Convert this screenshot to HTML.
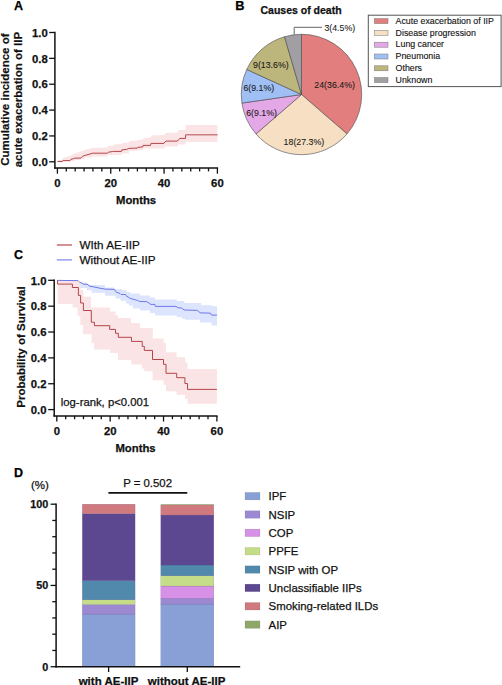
<!DOCTYPE html>
<html><head><meta charset="utf-8"><style>
html,body{margin:0;padding:0;background:#fff;}
svg{display:block;font-family:"Liberation Sans", sans-serif;}
</style></head><body>
<svg width="502" height="685" viewBox="0 0 502 685">
<rect width="502" height="685" fill="#fff"/>
<text x="14" y="10" font-size="12.5" font-weight="700" text-anchor="start" fill="#000" stroke="#000" stroke-width="0.25" >A</text>
<text transform="translate(8.6,99.6) rotate(-90)" font-size="11.5" font-weight="700" text-anchor="middle" fill="#111" stroke="#111" stroke-width="0.2">Cumulative incidence of</text>
<text transform="translate(21.6,99.6) rotate(-90)" font-size="11.5" font-weight="700" text-anchor="middle" fill="#111" stroke="#111" stroke-width="0.2">acute exacerbation of IIP</text>
<path d="M57.5,160.0 L62.0,160.0 L63.0,158.0 L71.0,155.4 L75.0,153.4 L81.0,151.4 L85.0,150.0 L92.4,148.0 L107.5,147.6 L108.0,145.9 L113.4,145.5 L114.0,144.4 L121.5,144.0 L122.0,143.2 L128.9,142.6 L129.5,141.0 L137.6,140.6 L138.0,139.8 L143.0,139.4 L143.5,138.0 L151.0,137.6 L151.5,135.4 L164.5,135.0 L165.0,133.0 L178.0,132.6 L178.5,130.0 L185.6,130.0 L185.6,125.0 L217.4,125.0 L217.4,141.9 L185.6,141.9 L185.6,144.4 L178.0,144.4 L178.0,146.4 L164.5,146.4 L164.5,148.4 L151.0,148.4 L151.0,148.4 L143.0,148.4 L143.0,149.9 L137.6,149.9 L137.6,150.9 L128.9,150.9 L128.9,153.4 L121.5,153.4 L121.5,154.9 L107.5,154.9 L107.5,156.4 L92.4,156.4 L92.4,157.4 L84.9,157.4 L84.9,158.9 L80.9,158.9 L80.9,159.9 L74.9,159.9 L74.9,160.9 L70.9,160.9 L70.9,161.6 L62.8,161.6 L62.8,162.3 L57.5,162.3Z" fill="#FBE4E5" fill-opacity="1"/>
<path d="M57.5,161.5 L62.2,161.5 L62.8,160.6 L70.0,160.6 L70.9,159.4 L73.4,158.7 L74.9,158.1 L80.9,158.1 L82.4,156.4 L84.9,155.4 L88.9,154.4 L92.4,153.2 L107.5,153.2 L108.5,152.1 L112.0,151.7 L113.4,151.4 L121.4,151.4 L121.9,149.9 L126.4,149.4 L128.9,148.4 L137.4,148.1 L137.8,147.4 L142.8,146.9 L143.0,145.4 L150.5,145.4 L151.0,143.4 L163.9,143.4 L164.9,141.9 L166.4,141.1 L177.4,141.1 L178.4,139.7 L179.9,138.4 L185.5,138.4 L185.6,134.8" fill="none" stroke="#B4454A" stroke-width="1.0" stroke-linejoin="miter"/>
<line x1="185.6" y1="134.8" x2="217.6" y2="134.8" stroke="#CC7F83" stroke-width="1.4"/>
<line x1="54.9" y1="31.8" x2="54.9" y2="168.8" stroke="#111" stroke-width="1.5"/>
<line x1="54.15" y1="168.10000000000002" x2="218.1" y2="168.10000000000002" stroke="#111" stroke-width="1.5"/>
<line x1="49.199999999999996" y1="161.8" x2="54.9" y2="161.8" stroke="#111" stroke-width="1.3"/>
<text x="47.699999999999996" y="166.0" font-size="11.3" font-weight="700" text-anchor="end" fill="#111" stroke="#111" stroke-width="0.25" >0.0</text>
<line x1="49.199999999999996" y1="135.94" x2="54.9" y2="135.94" stroke="#111" stroke-width="1.3"/>
<text x="47.699999999999996" y="140.14" font-size="11.3" font-weight="700" text-anchor="end" fill="#111" stroke="#111" stroke-width="0.25" >0.2</text>
<line x1="49.199999999999996" y1="110.08000000000001" x2="54.9" y2="110.08000000000001" stroke="#111" stroke-width="1.3"/>
<text x="47.699999999999996" y="114.28" font-size="11.3" font-weight="700" text-anchor="end" fill="#111" stroke="#111" stroke-width="0.25" >0.4</text>
<line x1="49.199999999999996" y1="84.22" x2="54.9" y2="84.22" stroke="#111" stroke-width="1.3"/>
<text x="47.699999999999996" y="88.42" font-size="11.3" font-weight="700" text-anchor="end" fill="#111" stroke="#111" stroke-width="0.25" >0.6</text>
<line x1="49.199999999999996" y1="58.36" x2="54.9" y2="58.36" stroke="#111" stroke-width="1.3"/>
<text x="47.699999999999996" y="62.56" font-size="11.3" font-weight="700" text-anchor="end" fill="#111" stroke="#111" stroke-width="0.25" >0.8</text>
<line x1="49.199999999999996" y1="32.5" x2="54.9" y2="32.5" stroke="#111" stroke-width="1.3"/>
<text x="47.699999999999996" y="36.7" font-size="11.3" font-weight="700" text-anchor="end" fill="#111" stroke="#111" stroke-width="0.25" >1.0</text>
<line x1="57.4" y1="168.10000000000002" x2="57.4" y2="173.70000000000002" stroke="#111" stroke-width="1.3"/>
<text x="57.4" y="186.8" font-size="11.3" font-weight="700" text-anchor="middle" fill="#111" stroke="#111" stroke-width="0.25" >0</text>
<line x1="66.28888888888889" y1="168.10000000000002" x2="66.28888888888889" y2="171.40000000000003" stroke="#111" stroke-width="1.3"/>
<line x1="75.17777777777778" y1="168.10000000000002" x2="75.17777777777778" y2="171.40000000000003" stroke="#111" stroke-width="1.3"/>
<line x1="84.06666666666666" y1="168.10000000000002" x2="84.06666666666666" y2="171.40000000000003" stroke="#111" stroke-width="1.3"/>
<line x1="92.95555555555555" y1="168.10000000000002" x2="92.95555555555555" y2="171.40000000000003" stroke="#111" stroke-width="1.3"/>
<line x1="101.84444444444443" y1="168.10000000000002" x2="101.84444444444443" y2="171.40000000000003" stroke="#111" stroke-width="1.3"/>
<line x1="110.73333333333333" y1="168.10000000000002" x2="110.73333333333333" y2="173.70000000000002" stroke="#111" stroke-width="1.3"/>
<text x="110.73" y="186.8" font-size="11.3" font-weight="700" text-anchor="middle" fill="#111" stroke="#111" stroke-width="0.25" >20</text>
<line x1="119.62222222222223" y1="168.10000000000002" x2="119.62222222222223" y2="171.40000000000003" stroke="#111" stroke-width="1.3"/>
<line x1="128.51111111111112" y1="168.10000000000002" x2="128.51111111111112" y2="171.40000000000003" stroke="#111" stroke-width="1.3"/>
<line x1="137.4" y1="168.10000000000002" x2="137.4" y2="171.40000000000003" stroke="#111" stroke-width="1.3"/>
<line x1="146.2888888888889" y1="168.10000000000002" x2="146.2888888888889" y2="171.40000000000003" stroke="#111" stroke-width="1.3"/>
<line x1="155.17777777777778" y1="168.10000000000002" x2="155.17777777777778" y2="171.40000000000003" stroke="#111" stroke-width="1.3"/>
<line x1="164.06666666666666" y1="168.10000000000002" x2="164.06666666666666" y2="173.70000000000002" stroke="#111" stroke-width="1.3"/>
<text x="164.07" y="186.8" font-size="11.3" font-weight="700" text-anchor="middle" fill="#111" stroke="#111" stroke-width="0.25" >40</text>
<line x1="172.95555555555555" y1="168.10000000000002" x2="172.95555555555555" y2="171.40000000000003" stroke="#111" stroke-width="1.3"/>
<line x1="181.84444444444446" y1="168.10000000000002" x2="181.84444444444446" y2="171.40000000000003" stroke="#111" stroke-width="1.3"/>
<line x1="190.73333333333335" y1="168.10000000000002" x2="190.73333333333335" y2="171.40000000000003" stroke="#111" stroke-width="1.3"/>
<line x1="199.62222222222223" y1="168.10000000000002" x2="199.62222222222223" y2="171.40000000000003" stroke="#111" stroke-width="1.3"/>
<line x1="208.51111111111112" y1="168.10000000000002" x2="208.51111111111112" y2="171.40000000000003" stroke="#111" stroke-width="1.3"/>
<line x1="217.4" y1="168.10000000000002" x2="217.4" y2="173.70000000000002" stroke="#111" stroke-width="1.3"/>
<text x="217.4" y="186.8" font-size="11.3" font-weight="700" text-anchor="middle" fill="#111" stroke="#111" stroke-width="0.25" >60</text>
<text x="136.1" y="204.1" font-size="11.3" font-weight="700" text-anchor="middle" fill="#111" stroke="#111" stroke-width="0.25" >Months</text>
<text x="235.3" y="10.0" font-size="12.8" font-weight="700" text-anchor="start" fill="#000" stroke="#000" stroke-width="0.25" >B</text>
<text x="260.5" y="13.6" font-size="10.5" font-weight="700" text-anchor="start" fill="#111" stroke="#111" stroke-width="0.25" >Causes of death</text>
<path d="M301.5,94.5 L301.50,34.30 A60.2,60.2 0 0 1 347.00,133.92 Z" fill="#E27F7E" stroke="#4a4a4a" stroke-width="0.6" stroke-linejoin="round"/>
<path d="M301.5,94.5 L347.00,133.92 A60.2,60.2 0 0 1 256.00,133.92 Z" fill="#F6DFC2" stroke="#4a4a4a" stroke-width="0.6" stroke-linejoin="round"/>
<path d="M301.5,94.5 L256.00,133.92 A60.2,60.2 0 0 1 241.91,103.07 Z" fill="#E4A8E6" stroke="#4a4a4a" stroke-width="0.6" stroke-linejoin="round"/>
<path d="M301.5,94.5 L241.91,103.07 A60.2,60.2 0 0 1 246.74,69.49 Z" fill="#A0BFF5" stroke="#4a4a4a" stroke-width="0.6" stroke-linejoin="round"/>
<path d="M301.5,94.5 L246.74,69.49 A60.2,60.2 0 0 1 284.54,36.74 Z" fill="#BCB57C" stroke="#4a4a4a" stroke-width="0.6" stroke-linejoin="round"/>
<path d="M301.5,94.5 L284.54,36.74 A60.2,60.2 0 0 1 301.50,34.30 Z" fill="#A19FA4" stroke="#4a4a4a" stroke-width="0.6" stroke-linejoin="round"/>
<text x="314.3" y="87.8" font-size="8.8" font-weight="400" text-anchor="start" fill="#1a1a1a" stroke="#1a1a1a" stroke-width="0.08" >24(36.4%)</text>
<text x="283.6" y="145.2" font-size="8.8" font-weight="400" text-anchor="start" fill="#1a1a1a" stroke="#1a1a1a" stroke-width="0.08" >18(27.3%)</text>
<text x="246.2" y="115.9" font-size="8.8" font-weight="400" text-anchor="start" fill="#1a1a1a" stroke="#1a1a1a" stroke-width="0.08" >6(9.1%)</text>
<text x="243.4" y="91.3" font-size="8.8" font-weight="400" text-anchor="start" fill="#1a1a1a" stroke="#1a1a1a" stroke-width="0.08" >6(9.1%)</text>
<text x="253.0" y="67.6" font-size="8.8" font-weight="400" text-anchor="start" fill="#1a1a1a" stroke="#1a1a1a" stroke-width="0.08" >9(13.6%)</text>
<text x="324.4" y="30.5" font-size="8.8" font-weight="400" text-anchor="start" fill="#1a1a1a" stroke="#1a1a1a" stroke-width="0.08" >3(4.5%)</text>
<path d="M294.2,34.3 V27.3 H322" fill="none" stroke="#555" stroke-width="0.9"/>
<rect x="368.3" y="15.2" width="132.8" height="71.4" fill="#fff" stroke="#555" stroke-width="1"/>
<rect x="374.4" y="18.6" width="13.6" height="5.0" fill="#E27F7E" stroke="#777" stroke-width="0.5"/>
<text x="395.6" y="23.8" font-size="8.8" font-weight="400" text-anchor="start" fill="#111" stroke="#111" stroke-width="0.12" >Acute exacerbation of IIP</text>
<rect x="374.4" y="30.4" width="13.6" height="5.0" fill="#F6DFC2" stroke="#777" stroke-width="0.5"/>
<text x="395.6" y="35.6" font-size="8.8" font-weight="400" text-anchor="start" fill="#111" stroke="#111" stroke-width="0.12" >Disease progression</text>
<rect x="374.4" y="42.2" width="13.6" height="5.0" fill="#E4A8E6" stroke="#777" stroke-width="0.5"/>
<text x="395.6" y="47.4" font-size="8.8" font-weight="400" text-anchor="start" fill="#111" stroke="#111" stroke-width="0.12" >Lung cancer</text>
<rect x="374.4" y="54.0" width="13.6" height="5.0" fill="#A0BFF5" stroke="#777" stroke-width="0.5"/>
<text x="395.6" y="59.2" font-size="8.8" font-weight="400" text-anchor="start" fill="#111" stroke="#111" stroke-width="0.12" >Pneumonia</text>
<rect x="374.4" y="65.8" width="13.6" height="5.0" fill="#BCB57C" stroke="#777" stroke-width="0.5"/>
<text x="395.6" y="71.0" font-size="8.8" font-weight="400" text-anchor="start" fill="#111" stroke="#111" stroke-width="0.12" >Others</text>
<rect x="374.4" y="77.6" width="13.6" height="5.0" fill="#A19FA4" stroke="#777" stroke-width="0.5"/>
<text x="395.6" y="82.8" font-size="8.8" font-weight="400" text-anchor="start" fill="#111" stroke="#111" stroke-width="0.12" >Unknown</text>
<text x="14" y="258.7" font-size="12.5" font-weight="700" text-anchor="start" fill="#000" stroke="#000" stroke-width="0.25" >C</text>
<line x1="56.8" y1="245" x2="72" y2="245" stroke="#B2383C" stroke-width="1.1"/>
<line x1="56.8" y1="259.9" x2="72" y2="259.9" stroke="#6F78E8" stroke-width="1.1"/>
<text x="79.5" y="248.6" font-size="11.7" font-weight="400" text-anchor="start" fill="#111" stroke="#111" stroke-width="0.25" >WIth AE-IIP</text>
<text x="79.5" y="263.7" font-size="11.7" font-weight="400" text-anchor="start" fill="#111" stroke="#111" stroke-width="0.25" >Without AE-IIP</text>
<text transform="translate(24.7,347) rotate(-90)" font-size="11.5" font-weight="700" text-anchor="middle" fill="#111" stroke="#111" stroke-width="0.2">Probability of Survival</text>
<path d="M57.4,280.2 L78.0,280.2 L78.0,282.5 L87.0,282.5 L87.0,285.0 L105.0,285.0 L105.0,287.4 L114.4,287.4 L114.4,289.0 L122.0,289.0 L122.0,290.0 L126.5,290.0 L126.5,292.0 L130.0,292.0 L130.0,293.5 L140.0,293.5 L140.0,295.5 L150.0,295.5 L150.0,297.5 L155.0,297.5 L155.0,299.5 L176.8,299.5 L176.8,301.0 L184.3,301.0 L184.3,302.9 L201.2,302.9 L201.2,305.3 L212.4,305.3 L212.4,306.3 L217.1,306.3 L217.1,325.4 L211.5,325.4 L211.5,322.6 L200.2,322.6 L200.2,319.8 L185.2,319.8 L185.2,318.7 L182.0,318.7 L182.0,317.2 L176.8,317.2 L176.8,315.5 L155.0,315.5 L155.0,312.9 L150.0,312.9 L150.0,310.4 L140.0,310.4 L140.0,308.4 L133.0,308.4 L133.0,305.4 L129.0,305.4 L129.0,303.4 L126.0,303.4 L126.0,300.8 L120.5,300.8 L120.5,298.5 L115.6,298.5 L115.6,295.7 L105.0,295.7 L105.0,292.7 L91.7,292.7 L91.7,290.3 L87.0,290.3 L87.0,288.0 L79.8,288.0 L79.8,285.6 L75.0,285.6 L57.4,281.5Z" fill="#DCE5FD" fill-opacity="1"/>
<path d="M57.4,280.2 L78.4,280.2 L78.4,283.0 L80.6,283.0 L80.6,290.0 L83.4,290.0 L83.4,296.7 L91.0,296.7 L91.0,307.5 L109.9,307.5 L109.9,311.6 L115.5,311.6 L115.5,315.2 L117.9,315.2 L117.9,318.0 L131.0,318.0 L131.0,323.0 L140.0,323.0 L140.0,328.0 L152.8,328.0 L152.8,338.5 L163.6,338.5 L163.6,343.1 L165.8,343.1 L165.8,352.2 L176.5,352.2 L176.5,357.2 L185.2,357.2 L185.2,362.6 L187.5,362.6 L187.5,369.1 L216.9,369.1 L216.9,403.8 L187.5,403.8 L187.5,399.0 L185.0,399.0 L185.0,394.8 L176.7,394.8 L176.7,391.2 L166.0,391.2 L166.0,384.7 L163.6,384.7 L163.6,380.3 L152.6,380.3 L152.6,371.2 L144.3,371.2 L144.3,368.5 L142.0,368.5 L142.0,364.5 L131.3,364.5 L131.3,360.0 L118.0,360.0 L118.0,353.0 L110.0,353.0 L110.0,349.6 L94.0,349.6 L94.0,343.0 L91.6,343.0 L91.6,334.3 L82.9,334.3 L82.9,325.0 L80.3,325.0 L80.3,316.3 L77.6,316.3 L77.6,307.5 L72.6,307.5 L72.6,304.0 L57.9,304.0 L57.4,281.0Z" fill="#FBE4E5" fill-opacity="1"/>
<path d="M57.2,280.4 L78.0,280.6 L78.7,281.3 L79.8,282.6 L81.1,282.6 L83.4,284.1 L88.1,284.5 L89.1,286.0 L94.1,287.0 L98.9,288.0 L104.9,289.1 L114.4,289.4 L116.2,292.1 L120.0,293.5 L121.0,294.5 L125.5,294.5 L126.5,296.2 L128.5,297.0 L129.5,298.1 L132.0,298.9 L134.9,299.7 L137.4,300.4 L139.4,301.4 L146.9,301.7 L147.9,302.4 L149.9,303.4 L150.4,304.4 L154.9,304.4 L155.4,306.4 L175.9,306.4 L177.8,307.6 L181.5,308.1 L184.3,310.0 L197.4,310.4 L200.2,312.8 L210.5,313.2 L211.5,315.1 L217.1,315.1" fill="none" stroke="#6F78E8" stroke-width="1.0" stroke-linejoin="miter"/>
<path d="M57.4,280.3 L57.6,284.1 L72.4,284.1 L72.4,287.5 L78.4,287.5 L78.4,295.4 L80.6,295.4 L80.6,303.0 L83.4,303.0 L83.4,310.5 L91.3,310.5 L91.3,322.2 L94.4,322.2 L94.4,325.7 L109.7,325.7 L109.7,329.4 L115.5,329.4 L115.5,333.3 L118.3,333.3 L118.3,337.3 L131.5,337.3 L131.5,341.4 L142.2,341.4 L142.2,346.3 L144.3,346.3 L144.3,350.4 L152.5,350.4 L152.5,359.5 L163.5,359.5 L163.5,364.3 L166.0,364.3 L166.0,373.3 L176.7,373.3 L176.7,377.7 L184.9,377.7 L184.9,383.5 L187.5,383.5 L187.5,389.4 L216.9,389.4" fill="none" stroke="#B4454A" stroke-width="1.0" stroke-linejoin="miter"/>
<text x="60.8" y="405.6" font-size="11.3" font-weight="400" text-anchor="start" fill="#111" stroke="#111" stroke-width="0.25" >log-rank, p&lt;0.001</text>
<line x1="54.2" y1="279.6" x2="54.2" y2="416.6" stroke="#111" stroke-width="1.5"/>
<line x1="53.45" y1="415.90000000000003" x2="217.6" y2="415.90000000000003" stroke="#111" stroke-width="1.5"/>
<line x1="48.2" y1="409.6" x2="54.2" y2="409.6" stroke="#111" stroke-width="1.3"/>
<text x="46.5" y="413.8" font-size="11.3" font-weight="700" text-anchor="end" fill="#111" stroke="#111" stroke-width="0.25" >0.0</text>
<line x1="48.2" y1="383.74" x2="54.2" y2="383.74" stroke="#111" stroke-width="1.3"/>
<text x="46.5" y="387.94" font-size="11.3" font-weight="700" text-anchor="end" fill="#111" stroke="#111" stroke-width="0.25" >0.2</text>
<line x1="48.2" y1="357.88" x2="54.2" y2="357.88" stroke="#111" stroke-width="1.3"/>
<text x="46.5" y="362.08" font-size="11.3" font-weight="700" text-anchor="end" fill="#111" stroke="#111" stroke-width="0.25" >0.4</text>
<line x1="48.2" y1="332.02" x2="54.2" y2="332.02" stroke="#111" stroke-width="1.3"/>
<text x="46.5" y="336.22" font-size="11.3" font-weight="700" text-anchor="end" fill="#111" stroke="#111" stroke-width="0.25" >0.6</text>
<line x1="48.2" y1="306.16" x2="54.2" y2="306.16" stroke="#111" stroke-width="1.3"/>
<text x="46.5" y="310.36" font-size="11.3" font-weight="700" text-anchor="end" fill="#111" stroke="#111" stroke-width="0.25" >0.8</text>
<line x1="48.2" y1="280.3" x2="54.2" y2="280.3" stroke="#111" stroke-width="1.3"/>
<text x="46.5" y="284.5" font-size="11.3" font-weight="700" text-anchor="end" fill="#111" stroke="#111" stroke-width="0.25" >1.0</text>
<line x1="56.8" y1="415.90000000000003" x2="56.8" y2="421.50000000000006" stroke="#111" stroke-width="1.3"/>
<text x="56.8" y="434.6" font-size="11.3" font-weight="700" text-anchor="middle" fill="#111" stroke="#111" stroke-width="0.25" >0</text>
<line x1="65.69444444444444" y1="415.90000000000003" x2="65.69444444444444" y2="419.20000000000005" stroke="#111" stroke-width="1.3"/>
<line x1="74.58888888888889" y1="415.90000000000003" x2="74.58888888888889" y2="419.20000000000005" stroke="#111" stroke-width="1.3"/>
<line x1="83.48333333333333" y1="415.90000000000003" x2="83.48333333333333" y2="419.20000000000005" stroke="#111" stroke-width="1.3"/>
<line x1="92.37777777777778" y1="415.90000000000003" x2="92.37777777777778" y2="419.20000000000005" stroke="#111" stroke-width="1.3"/>
<line x1="101.27222222222223" y1="415.90000000000003" x2="101.27222222222223" y2="419.20000000000005" stroke="#111" stroke-width="1.3"/>
<line x1="110.16666666666667" y1="415.90000000000003" x2="110.16666666666667" y2="421.50000000000006" stroke="#111" stroke-width="1.3"/>
<text x="110.17" y="434.6" font-size="11.3" font-weight="700" text-anchor="middle" fill="#111" stroke="#111" stroke-width="0.25" >20</text>
<line x1="119.06111111111112" y1="415.90000000000003" x2="119.06111111111112" y2="419.20000000000005" stroke="#111" stroke-width="1.3"/>
<line x1="127.95555555555556" y1="415.90000000000003" x2="127.95555555555556" y2="419.20000000000005" stroke="#111" stroke-width="1.3"/>
<line x1="136.85000000000002" y1="415.90000000000003" x2="136.85000000000002" y2="419.20000000000005" stroke="#111" stroke-width="1.3"/>
<line x1="145.74444444444447" y1="415.90000000000003" x2="145.74444444444447" y2="419.20000000000005" stroke="#111" stroke-width="1.3"/>
<line x1="154.6388888888889" y1="415.90000000000003" x2="154.6388888888889" y2="419.20000000000005" stroke="#111" stroke-width="1.3"/>
<line x1="163.53333333333336" y1="415.90000000000003" x2="163.53333333333336" y2="421.50000000000006" stroke="#111" stroke-width="1.3"/>
<text x="163.53" y="434.6" font-size="11.3" font-weight="700" text-anchor="middle" fill="#111" stroke="#111" stroke-width="0.25" >40</text>
<line x1="172.4277777777778" y1="415.90000000000003" x2="172.4277777777778" y2="419.20000000000005" stroke="#111" stroke-width="1.3"/>
<line x1="181.32222222222225" y1="415.90000000000003" x2="181.32222222222225" y2="419.20000000000005" stroke="#111" stroke-width="1.3"/>
<line x1="190.2166666666667" y1="415.90000000000003" x2="190.2166666666667" y2="419.20000000000005" stroke="#111" stroke-width="1.3"/>
<line x1="199.11111111111114" y1="415.90000000000003" x2="199.11111111111114" y2="419.20000000000005" stroke="#111" stroke-width="1.3"/>
<line x1="208.0055555555556" y1="415.90000000000003" x2="208.0055555555556" y2="419.20000000000005" stroke="#111" stroke-width="1.3"/>
<line x1="216.90000000000003" y1="415.90000000000003" x2="216.90000000000003" y2="421.50000000000006" stroke="#111" stroke-width="1.3"/>
<text x="216.9" y="434.6" font-size="11.3" font-weight="700" text-anchor="middle" fill="#111" stroke="#111" stroke-width="0.25" >60</text>
<text x="135.55" y="451.9" font-size="11.3" font-weight="700" text-anchor="middle" fill="#111" stroke="#111" stroke-width="0.25" >Months</text>
<text x="14" y="477.2" font-size="12.5" font-weight="700" text-anchor="start" fill="#000" stroke="#000" stroke-width="0.25" >D</text>
<text x="31" y="489.2" font-size="11.5" font-weight="400" text-anchor="start" fill="#111" stroke="#111" stroke-width="0.25" >(%)</text>
<rect x="82.3" y="614.13" width="52.80" height="52.57" fill="#88A0D5" stroke="rgba(60,40,110,0.35)" stroke-width="0.4"/>
<rect x="82.3" y="604.57" width="52.80" height="9.56" fill="#9D89D2" stroke="rgba(60,40,110,0.35)" stroke-width="0.4"/>
<rect x="82.3" y="599.79" width="52.80" height="4.78" fill="#C5DD88" stroke="rgba(60,40,110,0.35)" stroke-width="0.4"/>
<rect x="82.3" y="580.67" width="52.80" height="19.12" fill="#5089AB" stroke="rgba(60,40,110,0.35)" stroke-width="0.4"/>
<rect x="82.3" y="513.76" width="52.80" height="66.91" fill="#5C4891" stroke="rgba(60,40,110,0.35)" stroke-width="0.4"/>
<rect x="82.3" y="504.20" width="52.80" height="9.56" fill="#D07A80" stroke="rgba(60,40,110,0.35)" stroke-width="0.4"/>
<rect x="160.8" y="604.14" width="53.00" height="62.56" fill="#88A0D5" stroke="rgba(60,40,110,0.35)" stroke-width="0.4"/>
<rect x="160.8" y="598.29" width="53.00" height="5.85" fill="#9D89D2" stroke="rgba(60,40,110,0.35)" stroke-width="0.4"/>
<rect x="160.8" y="586.10" width="53.00" height="12.19" fill="#D690E6" stroke="rgba(60,40,110,0.35)" stroke-width="0.4"/>
<rect x="160.8" y="575.78" width="53.00" height="10.32" fill="#C5DD88" stroke="rgba(60,40,110,0.35)" stroke-width="0.4"/>
<rect x="160.8" y="564.98" width="53.00" height="10.81" fill="#5089AB" stroke="rgba(60,40,110,0.35)" stroke-width="0.4"/>
<rect x="160.8" y="515.09" width="53.00" height="49.89" fill="#5C4891" stroke="rgba(60,40,110,0.35)" stroke-width="0.4"/>
<rect x="160.8" y="504.85" width="53.00" height="10.24" fill="#D07A80" stroke="rgba(60,40,110,0.35)" stroke-width="0.4"/>
<rect x="160.8" y="504.20" width="53.00" height="0.65" fill="#8FA86A"/>
<line x1="56.1" y1="503.59999999999997" x2="56.1" y2="667.4000000000001" stroke="#111" stroke-width="1.5"/>
<line x1="55.4" y1="666.7" x2="240.2" y2="666.7" stroke="#111" stroke-width="1.5"/>
<line x1="50.6" y1="666.7" x2="56.1" y2="666.7" stroke="#111" stroke-width="1.3"/>
<text x="48.2" y="670.6" font-size="10.8" font-weight="700" text-anchor="end" fill="#111" stroke="#111" stroke-width="0.25" >0</text>
<line x1="52.3" y1="650.45" x2="56.1" y2="650.45" stroke="#111" stroke-width="1.3"/>
<line x1="52.3" y1="634.2" x2="56.1" y2="634.2" stroke="#111" stroke-width="1.3"/>
<line x1="52.3" y1="617.95" x2="56.1" y2="617.95" stroke="#111" stroke-width="1.3"/>
<line x1="52.3" y1="601.7" x2="56.1" y2="601.7" stroke="#111" stroke-width="1.3"/>
<line x1="50.6" y1="585.45" x2="56.1" y2="585.45" stroke="#111" stroke-width="1.3"/>
<text x="48.2" y="589.35" font-size="10.8" font-weight="700" text-anchor="end" fill="#111" stroke="#111" stroke-width="0.25" >50</text>
<line x1="52.3" y1="569.2" x2="56.1" y2="569.2" stroke="#111" stroke-width="1.3"/>
<line x1="52.3" y1="552.95" x2="56.1" y2="552.95" stroke="#111" stroke-width="1.3"/>
<line x1="52.3" y1="536.7" x2="56.1" y2="536.7" stroke="#111" stroke-width="1.3"/>
<line x1="52.3" y1="520.45" x2="56.1" y2="520.45" stroke="#111" stroke-width="1.3"/>
<line x1="50.6" y1="504.2" x2="56.1" y2="504.2" stroke="#111" stroke-width="1.3"/>
<text x="48.2" y="508.1" font-size="10.8" font-weight="700" text-anchor="end" fill="#111" stroke="#111" stroke-width="0.25" >100</text>
<line x1="108.6" y1="666.7" x2="108.6" y2="672" stroke="#111" stroke-width="1.3"/>
<line x1="187.3" y1="666.7" x2="187.3" y2="672" stroke="#111" stroke-width="1.3"/>
<text x="108.5" y="685.2" font-size="11.5" font-weight="700" text-anchor="middle" fill="#111" stroke="#111" stroke-width="0.25" >with AE-IIP</text>
<text x="186.6" y="685.2" font-size="11.5" font-weight="700" text-anchor="middle" fill="#111" stroke="#111" stroke-width="0.25" >without AE-IIP</text>
<text x="147.6" y="486.9" font-size="11.4" font-weight="400" text-anchor="middle" fill="#111" stroke="#111" stroke-width="0.25" >P = 0.502</text>
<line x1="108.4" y1="492.9" x2="187.3" y2="492.9" stroke="#111" stroke-width="1.6"/>
<rect x="245" y="492.40" width="15" height="7.5" fill="#88A0D5" stroke="rgba(0,0,0,0.15)" stroke-width="0.5"/>
<text x="268.6" y="500.2" font-size="11.4" font-weight="400" text-anchor="start" fill="#111" stroke="#111" stroke-width="0.25" >IPF</text>
<rect x="245" y="510.75" width="15" height="7.5" fill="#9D89D2" stroke="rgba(0,0,0,0.15)" stroke-width="0.5"/>
<text x="268.6" y="518.55" font-size="11.4" font-weight="400" text-anchor="start" fill="#111" stroke="#111" stroke-width="0.25" >NSIP</text>
<rect x="245" y="529.10" width="15" height="7.5" fill="#D690E6" stroke="rgba(0,0,0,0.15)" stroke-width="0.5"/>
<text x="268.6" y="536.9" font-size="11.4" font-weight="400" text-anchor="start" fill="#111" stroke="#111" stroke-width="0.25" >COP</text>
<rect x="245" y="547.45" width="15" height="7.5" fill="#C5DD88" stroke="rgba(0,0,0,0.15)" stroke-width="0.5"/>
<text x="268.6" y="555.25" font-size="11.4" font-weight="400" text-anchor="start" fill="#111" stroke="#111" stroke-width="0.25" >PPFE</text>
<rect x="245" y="565.80" width="15" height="7.5" fill="#5089AB" stroke="rgba(0,0,0,0.15)" stroke-width="0.5"/>
<text x="268.6" y="573.6" font-size="11.4" font-weight="400" text-anchor="start" fill="#111" stroke="#111" stroke-width="0.25" >NSIP with OP</text>
<rect x="245" y="584.15" width="15" height="7.5" fill="#5C4891" stroke="rgba(0,0,0,0.15)" stroke-width="0.5"/>
<text x="268.6" y="591.95" font-size="11.4" font-weight="400" text-anchor="start" fill="#111" stroke="#111" stroke-width="0.25" >Unclassifiable IIPs</text>
<rect x="245" y="602.50" width="15" height="7.5" fill="#D07A80" stroke="rgba(0,0,0,0.15)" stroke-width="0.5"/>
<text x="268.6" y="610.3" font-size="11.4" font-weight="400" text-anchor="start" fill="#111" stroke="#111" stroke-width="0.25" >Smoking-related ILDs</text>
<rect x="245" y="620.85" width="15" height="7.5" fill="#8FA86A" stroke="rgba(0,0,0,0.15)" stroke-width="0.5"/>
<text x="268.6" y="628.65" font-size="11.4" font-weight="400" text-anchor="start" fill="#111" stroke="#111" stroke-width="0.25" >AIP</text>
</svg>
</body></html>
